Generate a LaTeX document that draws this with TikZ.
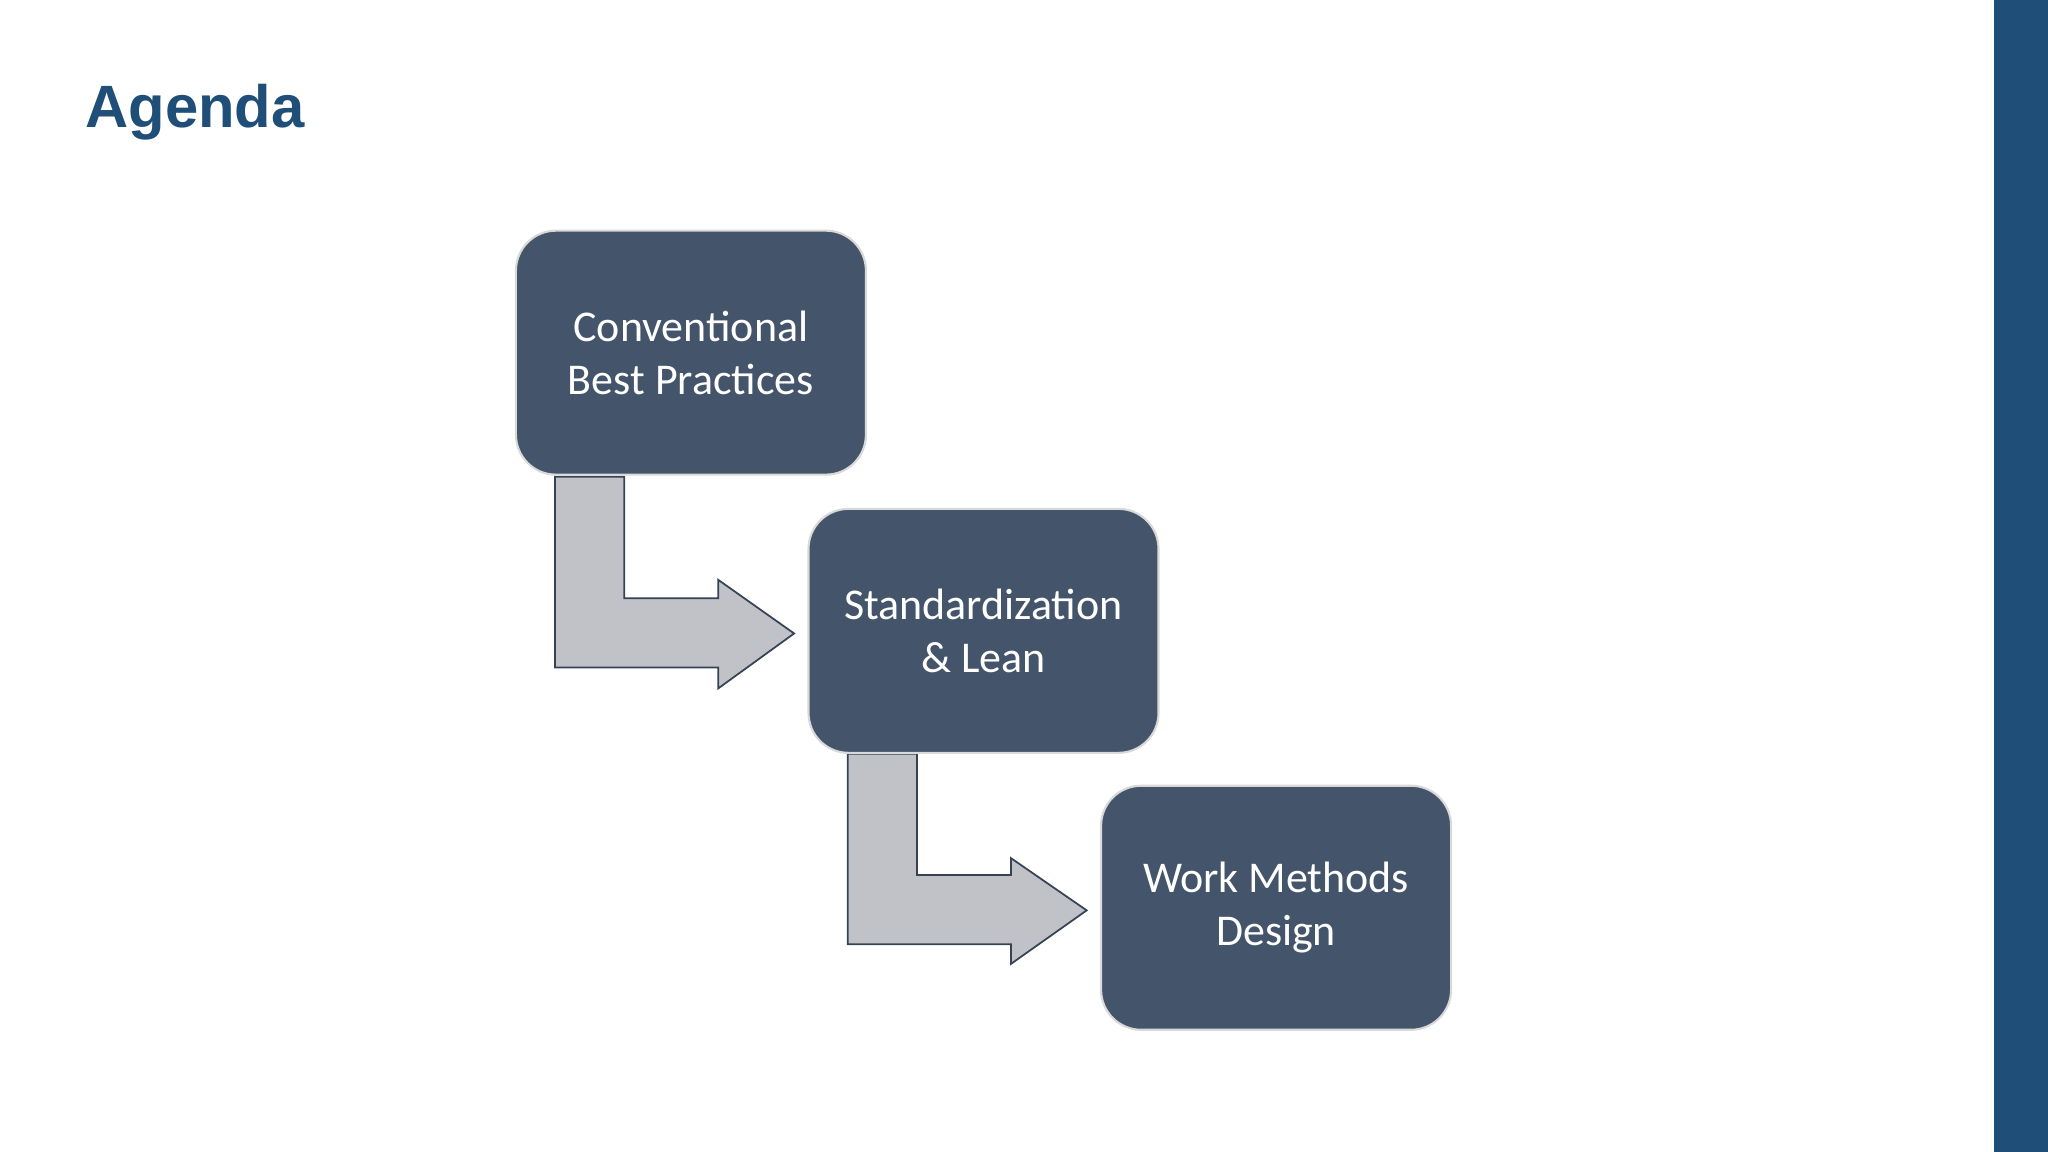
\documentclass[tikz,border=0pt]{standalone}
\usepackage{fontspec}
\setmainfont{Carlito}
\newfontfamily\titlefont{Liberation Sans}
\usepackage{tikz}
\definecolor{slate}{RGB}{68,84,106}
\definecolor{agendablue}{RGB}{31,78,121}
\definecolor{arrowgray}{RGB}{192,194,200}
\tikzset{
  stagebox/.style={draw=white!85!black, line width=0.6pt, fill=slate, rounded corners=0.4cm,
    minimum width=3.5cm, minimum height=2.44cm, text=white, align=center,
    font=\fontsize{12.5pt}{15pt}\selectfont},
  bentarrow/.style={draw=slate!80!black, line width=0.5pt, fill=arrowgray}
}
\begin{document}
\begin{tikzpicture}[x=0.013061cm,y=-0.013061cm]
\useasboundingbox (0,0) rectangle (1568,882);
\fill[white] (0,0) rectangle (1568,882);
\fill[agendablue] (1527,0) rectangle (1568,882);
\node[anchor=base west, inner sep=0pt, text=agendablue, font=\titlefont\bfseries\fontsize{17pt}{20pt}\selectfont] (title) at (65,98) {Agenda};

% bent arrows behind the boxes
\draw[bentarrow] (425,365) -- (478,365) -- (478,458) -- (550,458) -- (550,444)
  -- (608,485) -- (550,527) -- (550,511) -- (425,511) -- cycle;
\draw[bentarrow] (649,577) -- (702,577) -- (702,670) -- (774,670) -- (774,657)
  -- (832,697) -- (774,738) -- (774,723) -- (649,723) -- cycle;

% stages
\node[stagebox] (conv) at (529,270) {Conventional\\Best Practices};
\node[stagebox] (lean) at (753,483) {Standardization\\\& Lean};
\node[stagebox] (work) at (977,695) {Work Methods\\Design};
\end{tikzpicture}
\end{document}
